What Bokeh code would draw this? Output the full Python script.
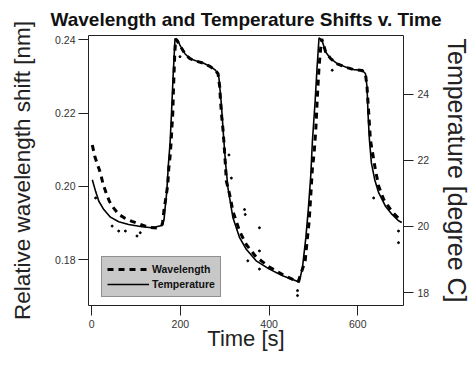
from bokeh.plotting import figure
from bokeh.models import Range1d, LinearAxis, FixedTicker, Legend, LegendItem, PrintfTickFormatter
from bokeh.embed import file_html
from bokeh.resources import INLINE

# ---- data ----
time_wl = [1.6, 7.4, 15.0, 20.1, 25.3, 32.9, 40.3, 49.9, 61.1, 76.1, 91.1, 109.7, 128.3, 147.1,
           159.6, 163.4, 167.9, 171.7, 173.9, 176.8, 179.1, 180.7, 182.9, 184.2, 185.8, 187.4, 189.6,
           199.2, 210.4, 221.6, 236.6, 251.4, 266.4, 277.6, 285.0, 288.8, 290.4, 293.3, 296.2, 298.4,
           301.1, 303.8, 311.2, 318.6, 333.6, 348.6, 370.9, 400.7, 430.5, 460.5, 465.6, 472.4, 481.3,
           484.2, 488.0, 490.3, 494.1, 497.6, 501.5, 505.3, 508.8, 512.6, 516.5, 518.7, 527.6, 538.8,
           553.6, 572.4, 591.0, 609.6, 617.2, 620.8, 624.6, 628.4, 639.6, 647.0, 658.2, 676.7, 691.7, 698.5]
wavelength = [0.2113, 0.2081, 0.2054, 0.2036, 0.2009, 0.1982, 0.1959, 0.1941, 0.1924, 0.1913, 0.1905,
              0.1897, 0.1889, 0.1887, 0.1897, 0.1938, 0.1973, 0.2005, 0.2049, 0.2081, 0.2118, 0.2154,
              0.2198, 0.2253, 0.2307, 0.2361, 0.2402, 0.2384, 0.2361, 0.2348, 0.2341, 0.2336, 0.2327,
              0.2318, 0.2307, 0.2271, 0.2235, 0.2190, 0.2154, 0.2118, 0.2068, 0.2014, 0.1978, 0.1932,
              0.1878, 0.1842, 0.1808, 0.1781, 0.1760, 0.1743, 0.1741, 0.1765, 0.1797, 0.1833, 0.1878,
              0.1905, 0.1978, 0.2049, 0.2090, 0.2154, 0.2244, 0.2325, 0.2379, 0.2402, 0.2366, 0.2348,
              0.2334, 0.2325, 0.2318, 0.2316, 0.2307, 0.2271, 0.2200, 0.2127, 0.2046, 0.2001, 0.1965,
              0.1932, 0.1914, 0.1908]

time_temp = [1.6, 9.0, 16.3, 27.5, 42.5, 61.1, 83.5, 113.5, 135.9, 158.3, 163.4, 165.7, 169.5, 173.1,
             176.9, 180.2, 183.6, 188.0, 194.8, 199.2, 210.4, 221.6, 236.6, 251.4, 266.4, 277.6, 285.0,
             287.2, 292.6, 297.7, 302.2, 307.4, 318.6, 333.6, 348.6, 370.9, 400.7, 430.5, 460.5, 467.9,
             475.3, 482.9, 488.7, 494.1, 497.6, 503.7, 508.2, 512.6, 519.4, 527.6, 538.8, 553.6, 572.4,
             591.0, 609.6, 617.2, 620.8, 623.0, 626.2, 630.6, 638.0, 647.0, 662.0, 676.7, 691.7, 699.1]
temperature = [21.41, 21.06, 20.76, 20.51, 20.28, 20.14, 20.06, 19.99, 19.96, 20.03, 20.22, 20.56,
               21.06, 21.87, 22.53, 23.46, 24.51, 25.67, 25.62, 25.47, 25.22, 25.07, 25.00, 24.94,
               24.84, 24.74, 24.62, 24.46, 23.67, 22.66, 21.87, 21.16, 20.26, 19.66, 19.31, 18.96,
               18.71, 18.51, 18.36, 18.31, 18.76, 19.66, 20.56, 21.56, 22.56, 23.76, 24.81, 25.70,
               25.62, 25.27, 25.07, 24.92, 24.82, 24.74, 24.72, 24.62, 24.22, 23.42, 22.62, 21.92,
               21.42, 21.02, 20.62, 20.37, 20.17, 20.12]

sample_time = [9.0, 46.3, 61.1, 76.1, 102.3, 109.7, 199.2, 309.6, 315.0, 344.7, 346.3, 352.1, 378.3,
               378.3, 378.3, 464.1, 464.1, 542.4, 632.0, 635.8, 691.7, 691.7]
sample_temp = [20.86, 20.01, 19.86, 19.86, 19.71, 19.81, 25.13, 22.16, 21.46, 20.51, 20.36, 18.96,
               19.96, 19.26, 18.71, 18.06, 17.91, 24.72, 22.16, 20.86, 19.86, 19.51]

x_ticks = [0, 200, 400, 600]
wl_ticks = [0.18, 0.20, 0.22, 0.24]
temp_ticks = [18, 20, 22, 24]

FONT = "Liberation Sans"

p = figure(width=474, height=365, output_backend="svg", toolbar_location=None,
           x_range=Range1d(-7, 703), y_range=Range1d(0.1676, 0.2411),
           min_border_left=88, min_border_right=69, min_border_top=33, min_border_bottom=60,
           title="Wavelength and Temperature Shifts v. Time")
p.extra_y_ranges = {"temp": Range1d(17.61, 25.77)}

p.title.text_font = FONT
p.title.text_font_size = "19px"
p.title.text_font_style = "bold"
p.title.text_color = "#111111"
p.title.align = "center"
p.title.offset = 8
p.title.standoff = 12

p.xgrid.visible = False
p.ygrid.visible = False
p.outline_line_color = "#222222"
p.outline_line_width = 1
p.background_fill_color = "white"
p.border_fill_color = "white"

wl_line = p.line(time_wl, wavelength, line_color="black", line_width=3, line_dash="6 5")
temp_line = p.line(time_temp, temperature, line_color="black", line_width=1.6, y_range_name="temp")
p.scatter(sample_time, sample_temp, size=2, color="black", y_range_name="temp")

right = LinearAxis(y_range_name="temp", axis_label="Temperature [degree C]")
p.add_layout(right, "right")

p.xaxis.axis_label = "Time [s]"
p.yaxis[0].axis_label = "Relative wavelength shift [nm]"

p.xaxis.ticker = FixedTicker(ticks=x_ticks)
p.yaxis[0].ticker = FixedTicker(ticks=wl_ticks)
p.yaxis[0].formatter = PrintfTickFormatter(format="%.2f")
right.ticker = FixedTicker(ticks=temp_ticks)

for ax in [p.xaxis[0], p.yaxis[0], right]:
    ax.axis_line_color = None
    ax.major_tick_line_color = "#222222"
    ax.major_tick_out = 10
    ax.major_tick_in = 0
    ax.minor_tick_line_color = None
    ax.major_label_text_font = FONT
    ax.major_label_text_font_size = "10.5px"
    ax.major_label_text_color = "#333333"
    ax.axis_label_text_font = FONT
    ax.axis_label_text_font_style = "normal"
    ax.axis_label_text_color = "#222222"

p.xaxis[0].axis_label_text_font_size = "22px"
p.xaxis[0].major_label_standoff = 4
p.xaxis[0].axis_label_standoff = -5
p.yaxis[0].axis_label_text_font_size = "22.5px"
p.yaxis[0].major_label_standoff = 3
p.yaxis[0].axis_label_standoff = 17
right.axis_label_text_font_size = "25px"
right.major_label_standoff = 4
right.axis_label_standoff = 11

legend = Legend(items=[LegendItem(label="Wavelength", renderers=[wl_line]),
                       LegendItem(label="Temperature", renderers=[temp_line])],
                location=(13, 8))
legend.background_fill_color = "#c8c8c8"
legend.background_fill_alpha = 1
legend.border_line_color = "#555555"
legend.border_line_width = 1
legend.label_text_font = FONT
legend.label_text_font_size = "10.5px"
legend.label_text_font_style = "bold"
legend.label_text_color = "#111111"
legend.glyph_width = 42
legend.glyph_height = 14
legend.label_height = 14
legend.label_standoff = 3
legend.spacing = 1
legend.padding = 5
legend.margin = 0
p.add_layout(legend)

open("out.html", "w").write(file_html(p, INLINE))
